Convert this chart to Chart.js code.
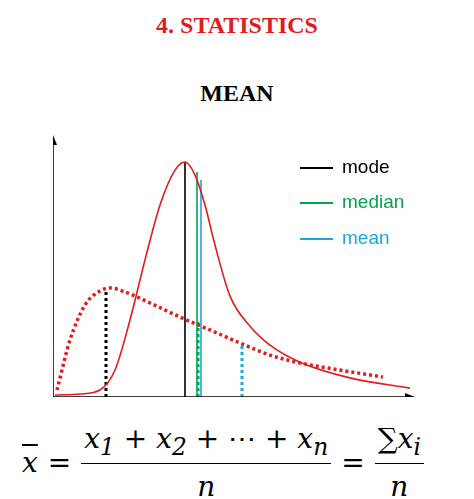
<!DOCTYPE html>
<html><head><meta charset="utf-8">
<script src="https://cdn.jsdelivr.net/npm/chart.js@4"></script>
<style>
body{margin:0;width:474px;height:499px;background:#fff;position:relative;overflow:hidden;font-family:"Liberation Serif",serif}
.t{position:absolute;left:0;width:474px;text-align:center;font-weight:bold}
#wrap{position:absolute;left:53px;top:135px;width:362px;height:262px}
.lg{position:absolute;font-family:"Liberation Sans",Arial,sans-serif;font-size:19px}
.lg span{display:inline-block;width:33px;height:2px;vertical-align:middle;margin-right:9px}
#f{position:absolute;left:22px;top:422px;font-family:"DejaVu Serif",serif;font-style:italic;font-size:28px;display:flex;align-items:center;gap:10px}
.fr{display:inline-flex;flex-direction:column;align-items:center}
.fr .n{border-bottom:1.5px solid #000;padding:0 3px 2px}
.fr .d{padding-top:6px}
.up{font-style:normal}
</style></head><body>
<div class="t" style="top:12px;font-size:24px;color:#e31b1b">4. STATISTICS</div>
<div class="t" style="top:80px;font-size:24px;color:#000">MEAN</div>
<div id="wrap"><canvas id="c"></canvas></div>
<div class="lg" style="left:300px;top:156px"><span style="background:#000"></span>mode</div>
<div class="lg" style="left:300px;top:191px;color:#00a550"><span style="background:#00a550"></span>median</div>
<div class="lg" style="left:300px;top:227px;color:#1aa7e0"><span style="background:#1aa7e0"></span>mean</div>
<div id="f"><span><span style="text-decoration:overline">x</span></span><span class="up">=</span>
<span class="fr"><span class="n">x<sub>1</sub> <span class="up">+</span> x<sub>2</sub> <span class="up">+ ⋯ +</span>  x<sub>n</sub></span><span class="d">n</span></span>
<span class="up">=</span>
<span class="fr"><span class="n"><span class="up">∑</span>x<sub>i</sub></span><span class="d">n</span></span></div>
<script>
// skewed distribution (red solid)
const skewX = [0.55,7.46,12.98,17.13,21.27,25.41,29.56,33.70,36.46,39.23,41.99,44.75,48.90,54.42,59.94,68.23,82.04,98.62];
const skewY = [0.76,1.15,2.67,10.3,29.4,52.3,73.3,86.6,89.7,84.7,73.3,58.0,38.5,27.0,19.8,13.3,7.3,3.4];
// wide distribution (red dotted)
const wideX = [1.10,4.70,8.84,12.98,15.75,19.89,26.80,35.08,43.37,51.66,59.94,68.23,79.28,91.16];
const wideY = [2.67,21.8,35.1,40.5,41.6,40.1,35.9,30.5,25.6,20.6,16.0,13.0,10.3,7.6];
// marker lines: [x, top]
const modeSolid = [36.46, 89.7];
const medianSolid = [39.78, 85.9];
const meanSolid = [40.88, 82.8];
const modeDot = [14.64, 40.8];
const medianDot = [40.06, 28.6];
const meanDot = [52.2, 19.8];

const pts = (xs, ys) => xs.map((x, i) => ({x, y: ys[i]}));
const vline = (m, color, dash) => ({data: [{x: m[0], y: 0}, {x: m[0], y: m[1]}], borderColor: color, borderWidth: dash ? 3 : 1.6, borderDash: dash ? [3, 3] : [], pointRadius: 0});

const axes = {
  id: 'axes',
  afterDraw(ch) {
    const c = ch.ctx, a = ch.chartArea;
    c.save(); c.strokeStyle = '#000'; c.fillStyle = '#000'; c.lineWidth = 1.5;
    c.beginPath(); c.moveTo(a.left, a.bottom); c.lineTo(a.left, a.top + 2); c.moveTo(a.left, a.bottom); c.lineTo(a.right - 2, a.bottom); c.stroke();
    c.beginPath(); c.moveTo(a.left, a.top); c.lineTo(a.left - 4, a.top + 10); c.lineTo(a.left + 4, a.top + 10); c.fill();
    c.beginPath(); c.moveTo(a.right, a.bottom); c.lineTo(a.right - 10, a.bottom - 4); c.lineTo(a.right - 10, a.bottom + 4); c.fill();
    c.restore();
  }
};

new Chart(document.getElementById('c'), {
  type: 'line',
  data: {datasets: [
    {data: pts(skewX, skewY), borderColor: '#e31b1b', borderWidth: 1.6, pointRadius: 0, cubicInterpolationMode: 'monotone'},
    {data: pts(wideX, wideY), borderColor: '#e31b1b', borderWidth: 3.5, borderDash: [3, 3], pointRadius: 0, cubicInterpolationMode: 'monotone'},
    vline(modeSolid, '#000', false), vline(medianSolid, '#00a550', false), vline(meanSolid, '#1aa7e0', false),
    vline(modeDot, '#000', true), vline(medianDot, '#00a550', true), vline(meanDot, '#1aa7e0', true)
  ]},
  options: {
    responsive: true, maintainAspectRatio: false, animation: false, clip: false,
    layout: {padding: 0},
    plugins: {legend: {display: false}, tooltip: {enabled: false}},
    scales: {x: {type: 'linear', min: 0, max: 100, display: false}, y: {min: 0, max: 100, display: false}}
  },
  plugins: [axes]
});
</script>
</body></html>
